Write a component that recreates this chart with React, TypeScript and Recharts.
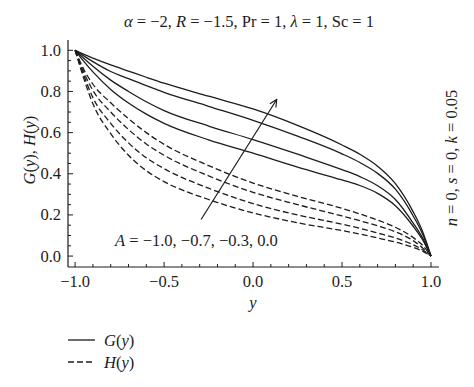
import React from "react";
import { LineChart, Line, XAxis, YAxis, Legend } from "recharts";

const yPos = [-1, -0.95, -0.9, -0.8, -0.7, -0.6, -0.5, -0.25, 0, 0.25, 0.5, 0.6, 0.7, 0.8, 0.9, 0.95, 1];

// G(y), solid, A = 0.0, -0.3, -0.7, -1.0 (top to bottom)
const gA00 = [1, 0.98, 0.962, 0.929, 0.899, 0.869, 0.84, 0.777, 0.715, 0.635, 0.54, 0.495, 0.437, 0.352, 0.215, 0.125, 0];
const gA03 = [1, 0.972, 0.945, 0.897, 0.862, 0.828, 0.796, 0.728, 0.66, 0.583, 0.497, 0.455, 0.402, 0.325, 0.195, 0.112, 0];
const gA07 = [1, 0.96, 0.922, 0.855, 0.8, 0.75, 0.707, 0.632, 0.566, 0.495, 0.42, 0.386, 0.342, 0.275, 0.16, 0.092, 0];
const gA10 = [1, 0.945, 0.895, 0.81, 0.744, 0.69, 0.645, 0.565, 0.5, 0.432, 0.37, 0.343, 0.305, 0.245, 0.145, 0.083, 0];

// H(y), dashed
const hA00 = [1, 0.905, 0.835, 0.745, 0.668, 0.6, 0.543, 0.44, 0.355, 0.29, 0.232, 0.205, 0.175, 0.14, 0.09, 0.055, 0];
const hA03 = [1, 0.89, 0.805, 0.7, 0.615, 0.545, 0.49, 0.39, 0.31, 0.25, 0.195, 0.172, 0.147, 0.118, 0.075, 0.042, 0];
const hA07 = [1, 0.875, 0.77, 0.645, 0.55, 0.478, 0.425, 0.33, 0.255, 0.2, 0.155, 0.135, 0.112, 0.088, 0.055, 0.032, 0];
const hA10 = [1, 0.86, 0.74, 0.595, 0.49, 0.415, 0.362, 0.275, 0.21, 0.162, 0.124, 0.107, 0.088, 0.068, 0.042, 0.025, 0];

const arrowX = [-0.292, 0.133];
const arrowV = [0.178, 0.761];

const xMajor = [-1, -0.5, 0, 0.5, 1];
const xTicks = [-1, -0.9, -0.8, -0.7, -0.6, -0.5, -0.4, -0.3, -0.2, -0.1, 0, 0.1, 0.2, 0.3, 0.4, 0.5, 0.6, 0.7, 0.8, 0.9, 1];
const yMajor = [0, 0.2, 0.4, 0.6, 0.8, 1];
const yTicks = [0, 0.05, 0.1, 0.15, 0.2, 0.25, 0.3, 0.35, 0.4, 0.45, 0.5, 0.55, 0.6, 0.65, 0.7, 0.75, 0.8, 0.85, 0.9, 0.95, 1];

const legendItems = [
  { name: "G", dash: undefined },
  { name: "H", dash: "6 3" },
];

const rows = yPos.map((x, i) => ({
  x,
  g1: gA10[i], g2: gA07[i], g3: gA03[i], g4: gA00[i],
  h1: hA10[i], h2: hA07[i], h3: hA03[i], h4: hA00[i],
}));
const arrowRows = arrowX.map((x, i) => ({ x, a: arrowV[i] }));

const FONT = "'Liberation Serif', 'Times New Roman', serif";
const FS = 16.5;
const INK = "#1c1c1c";

function fmt(v: number) {
  const s = Math.abs(v).toFixed(1);
  return v < -1e-9 ? "\u2212" + s : s;
}

const isMajor = (list: number[], v: number) => list.some((m) => Math.abs(m - v) < 1e-6);

function makeTick(side: "bottom" | "top" | "left" | "right", majors: number[], labels: boolean) {
  return (props: any) => {
    const { x, y, payload } = props;
    const v = payload.value;
    const major = isMajor(majors, v);
    const len = major ? 5 : 3;
    let line;
    if (side === "bottom") line = <line x1={x} x2={x} y1={y} y2={y - len} />;
    else if (side === "top") line = <line x1={x} x2={x} y1={y} y2={y + len} />;
    else if (side === "left") line = <line x1={x} x2={x + len} y1={y} y2={y} />;
    else line = <line x1={x} x2={x - len} y1={y} y2={y} />;
    return (
      <g>
        <g stroke={INK} strokeWidth={1}>{line}</g>
        {labels && major && side === "bottom" && (
          <text x={x} y={y + 19.5} textAnchor="middle" fontSize={FS} fontFamily={FONT} fill={INK}>
            {fmt(v)}
          </text>
        )}
        {labels && major && side === "left" && (
          <text x={x - 7} y={y + 5.5} textAnchor="end" fontSize={FS} fontFamily={FONT} fill={INK}>
            {fmt(v)}
          </text>
        )}
      </g>
    );
  };
}

function LegendBox() {
  return (
    <svg width={130} height={50}>
      {legendItems.map((it, i) => (
        <g key={it.name}>
          <line x1={8} x2={35} y1={12 + i * 22} y2={12 + i * 22} stroke={INK} strokeWidth={1.3} strokeDasharray={it.dash} />
          <text x={44} y={17.5 + i * 22} fontSize={FS} fontFamily={FONT} fill={INK}>
            <tspan fontStyle="italic">{it.name}</tspan>(<tspan fontStyle="italic">y</tspan>)
          </text>
        </g>
      ))}
    </svg>
  );
}

const axisLine = { stroke: INK, strokeWidth: 1.2 };

export default function App() {
  const xDomain = [-1.04, 1.045];
  const yDomain = [-0.053, 1.05];
  const solid = ["g1", "g2", "g3", "g4"];
  const dashed = ["h1", "h2", "h3", "h4"];
  return (
    <div style={{ position: "absolute", left: 0, top: 0, width: 474, height: 387, background: "#fff" }}>
      <svg width={0} height={0} style={{ position: "absolute" }}>
        <defs>
          <marker id="arrowHead" viewBox="0 0 10 10" refX={9} refY={5} markerWidth={9} markerHeight={9} markerUnits="userSpaceOnUse" orient="auto">
            <path d="M1,1 L9,5 L1,9" fill="none" stroke={INK} strokeWidth={1.3} />
          </marker>
        </defs>
      </svg>
      <LineChart width={474} height={387} data={rows} margin={{ top: 40, right: 35, bottom: 90, left: 0 }}>
        <XAxis xAxisId="b" dataKey="x" type="number" domain={xDomain} allowDataOverflow ticks={xTicks} interval={0}
          orientation="bottom" height={30} tickSize={0} tickMargin={0} axisLine={axisLine} tickLine={false}
          tick={makeTick("bottom", xMajor, true)} />
        <XAxis xAxisId="t" dataKey="x" type="number" domain={xDomain} allowDataOverflow ticks={xTicks} interval={0}
          orientation="top" height={0} tickSize={0} tickMargin={0} axisLine={axisLine} tickLine={false}
          tick={makeTick("top", xMajor, false)} />
        <YAxis yAxisId="l" type="number" domain={yDomain} allowDataOverflow ticks={yTicks} interval={0}
          orientation="left" width={68} tickSize={0} tickMargin={0} axisLine={axisLine} tickLine={false}
          tick={makeTick("left", yMajor, true)} />
        <YAxis yAxisId="r" type="number" domain={yDomain} allowDataOverflow ticks={yTicks} interval={0}
          orientation="right" width={0} tickSize={0} tickMargin={0} axisLine={axisLine} tickLine={false}
          tick={makeTick("right", yMajor, false)} />
        {solid.map((k) => (
          <Line key={k} xAxisId="b" yAxisId="l" type="monotone" dataKey={k} stroke={INK} strokeWidth={1.3}
            dot={false} activeDot={false} isAnimationActive={false} />
        ))}
        {dashed.map((k) => (
          <Line key={k} xAxisId="b" yAxisId="l" type="monotone" dataKey={k} stroke={INK} strokeWidth={1.3}
            strokeDasharray="6 3" dot={false} activeDot={false} isAnimationActive={false} />
        ))}
        <Line xAxisId="b" yAxisId="l" data={arrowRows} dataKey="a" type="linear" stroke={INK} strokeWidth={1.2}
          markerEnd="url(#arrowHead)" dot={false} activeDot={false} isAnimationActive={false} />
        <Legend layout="vertical" align="center" verticalAlign="middle" content={() => <LegendBox />}
          wrapperStyle={{ left: 60, top: 328, width: 130, height: 50 }} />
      </LineChart>
      <svg width={474} height={387} style={{ position: "absolute", left: 0, top: 0, pointerEvents: "none" }}
        fontFamily={FONT} fontSize={FS} fill={INK}>
        <text x={249} y={27} textAnchor="middle">
          <tspan fontStyle="italic">α</tspan> = −2, <tspan fontStyle="italic">R</tspan> = −1.5, Pr = 1,{" "}
          <tspan fontStyle="italic">λ</tspan> = 1, Sc = 1
        </text>
        <text transform="translate(35,150) rotate(-90)" textAnchor="middle">
          <tspan fontStyle="italic">G</tspan>(<tspan fontStyle="italic">y</tspan>), <tspan fontStyle="italic">H</tspan>(<tspan fontStyle="italic">y</tspan>)
        </text>
        <text transform="translate(457,158) rotate(-90)" textAnchor="middle">
          <tspan fontStyle="italic">n</tspan> = 0, <tspan fontStyle="italic">s</tspan> = 0, <tspan fontStyle="italic">k</tspan> = 0.05
        </text>
        <text x={253} y={308} textAnchor="middle" fontStyle="italic">y</text>
        <text x={115} y={246}>
          <tspan fontStyle="italic">A</tspan> = −1.0, −0.7, −0.3, 0.0
        </text>
      </svg>
    </div>
  );
}
